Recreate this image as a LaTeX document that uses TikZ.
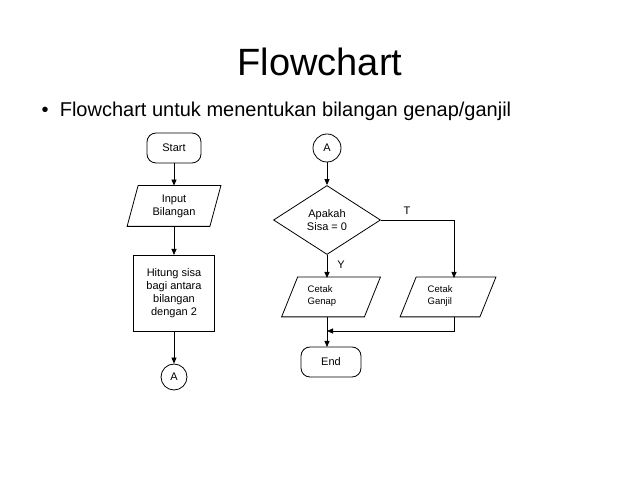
\documentclass[tikz,border=0pt]{standalone}
\usepackage{fontspec}
\setmainfont{Liberation Sans}
\usetikzlibrary{shapes.geometric,arrows.meta,calc}
\begin{document}
\begin{tikzpicture}[x=1pt,y=-1pt,
  lbl/.style={font=\fontsize{11}{13}\selectfont,align=center},
  term/.style={draw,rounded corners=9pt,lbl,minimum width=54pt,minimum height=30pt,inner sep=0pt},
  iobox/.style={lbl,inner sep=0pt},
  conn/.style={draw,circle,lbl,minimum size=28pt,inner sep=0pt},
  arr/.style={-{Triangle[length=6pt,width=5pt]}},
  line width=0.8pt]
\useasboundingbox (0,0) rectangle (638,478);
\node (title) at (320,62) {\fontsize{38}{42}\selectfont Flowchart};
\node[anchor=west] (bul) at (38,111) {\fontsize{20}{24}\selectfont\textbullet\ \ Flowchart untuk menentukan bilangan genap/ganjil};
\node[term] (start) at (174,148) {Start};
\node[iobox,minimum width=93pt,minimum height=40pt] (inp) at (174,206) {Input\\Bilangan};
\draw ($(inp.north west)+(11,0)$) -- (inp.north east) -- ($(inp.south east)-(11,0)$) -- (inp.south west) -- cycle;
\node[draw,lbl,minimum width=81pt,minimum height=76pt,inner sep=0pt,anchor=north] (hit) at (174,255) {Hitung sisa\\bagi antara\\bilangan\\dengan 2};
\node[conn,minimum size=26pt] (a1) at (174,377) {A};
\node[conn] (a2) at (327,148) {A};
\node[draw,diamond,lbl,minimum width=107pt,minimum height=69pt,inner sep=0pt,aspect=1.55] (dec) at (327,220) {Apakah\\Sisa = 0};
\node[iobox,minimum width=98pt,minimum height=39pt] (gen) at (331,297) {};
\draw ($(gen.north west)+(16,0)$) -- (gen.north east) -- ($(gen.south east)-(16,0)$) -- (gen.south west) -- cycle;
\node[iobox,minimum width=95pt,minimum height=39pt] (gan) at (448,297) {};
\draw ($(gan.north west)+(16,0)$) -- (gan.north east) -- ($(gan.south east)-(16,0)$) -- (gan.south west) -- cycle;
\node[anchor=north west,align=left,font=\fontsize{9.5}{12}\selectfont] (gent) at (304,282) {Cetak\\Genap};
\node[anchor=north west,align=left,font=\fontsize{9.5}{12}\selectfont] (gant) at (424,282) {Cetak\\Ganjil};
\node[term,minimum width=60pt] (end) at (331,362) {End};
\node[lbl] (tl) at (407,211) {T};
\node[lbl] (yl) at (341,265) {Y};
\coordinate (m) at (327,331);
\coordinate (gx) at (454,220);
\coordinate (gt) at (454,278);
\coordinate (gb) at (454,317);
\coordinate (nt) at (327,278);
\coordinate (nb) at (327,317);
\coordinate (et) at (327,347);
\draw[arr] (start) -- (inp);
\draw[arr] (inp) -- (hit);
\draw[arr] (hit) -- (a1);
\draw[arr] (a2) -- (dec);
\draw[arr] (dec.south) -- (nt);
\draw[arr] (dec.east) -- (gx) -- (gt);
\draw (nb) -- (m);
\draw[arr] (gb) |- (m);
\draw[arr] (m) -- (et);
\end{tikzpicture}
\end{document}
